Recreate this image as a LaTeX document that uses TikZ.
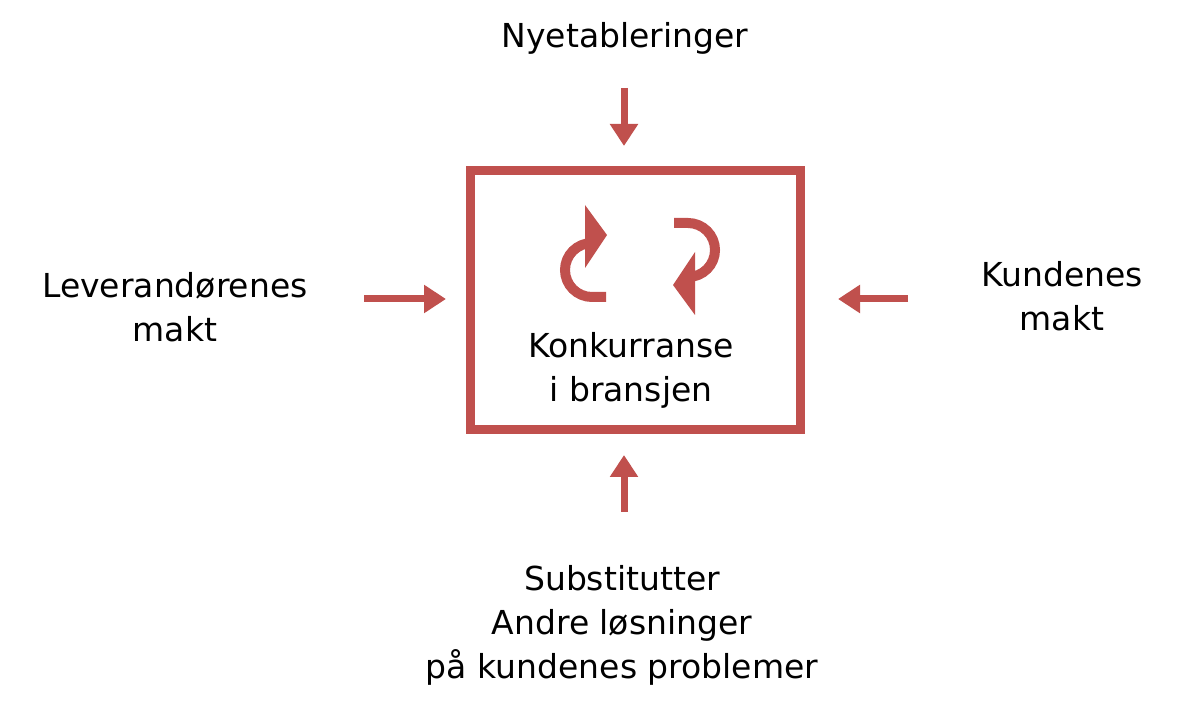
\documentclass[tikz,border=0pt]{standalone}
\usepackage{fontspec}
\setmainfont{DejaVu Sans}
\usetikzlibrary{arrows.meta}
\definecolor{rd}{RGB}{192,80,77}
\begin{document}
\begin{tikzpicture}[x=1pt,y=1pt,
  lbl/.style={align=center,font=\fontsize{33}{44}\selectfont,text=black,inner sep=0pt},
  push/.style={draw=rd,line width=7pt,-{Triangle[width=27pt,length=22pt]}},
  cyc/.style={draw=rd,line width=10pt}]
\useasboundingbox (0,0) rectangle (1179,715);
\node[draw=rd,line width=9pt,minimum width=330pt,minimum height=259pt,inner sep=0pt] (box) at (635.5,415) {};
\node[lbl] (top) at (625,677) {Nyetableringer};
\node[lbl] (left) at (175,408) {Leverandørenes\\makt};
\node[lbl] (right) at (1062,419) {Kundenes\\makt};
\node[lbl] (mid) at (631,345) {Konkurranse\\i bransjen};
\node[lbl] (bot) at (622,90) {Substitutter\\Andre løsninger\\på kundenes problemer};
\coordinate (ta) at (624,627); \coordinate (tb) at (624,569);
\coordinate (la) at (364,416); \coordinate (lb) at (446,416);
\coordinate (ra) at (908,416); \coordinate (rb) at (838,416);
\coordinate (ba) at (624,203); \coordinate (bb) at (624,260);
\draw[push] (ta) -- (tb);
\draw[push] (la) -- (lb);
\draw[push] (ra) -- (rb);
\draw[push] (ba) -- (bb);
\foreach \r in {0,180}{
 \begin{scope}[rotate around={\r:(640,455)}]
  \draw[cyc] (606,418) -- (592,418) arc[start angle=-90,end angle=-270,radius=27] -- (588,472);
  \fill[rd] (585,447) -- (607,480) -- (585,510) -- cycle;
 \end{scope}}
\end{tikzpicture}
\end{document}
